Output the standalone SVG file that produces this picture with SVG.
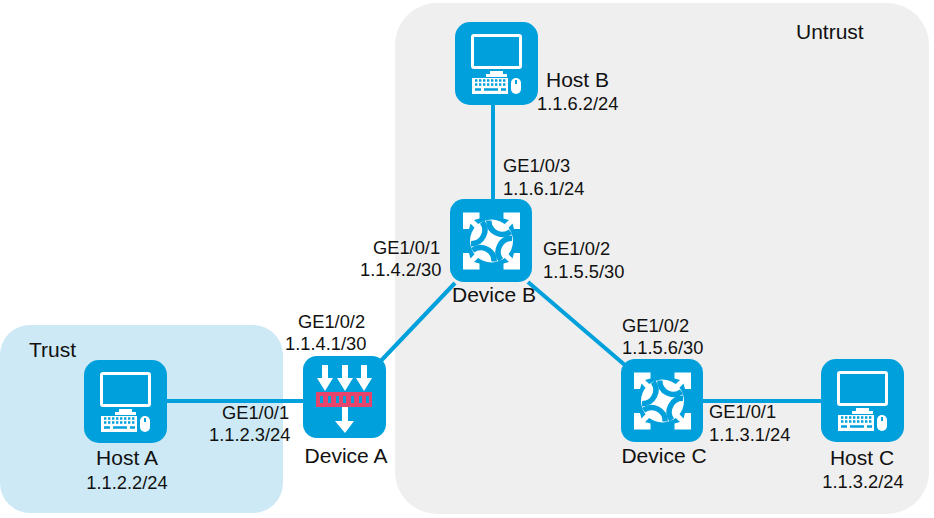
<svg xmlns="http://www.w3.org/2000/svg" xmlns:xlink="http://www.w3.org/1999/xlink" width="934" height="518" viewBox="0 0 934 518">
<style>
text{font-family:"Liberation Sans",Arial,sans-serif;font-size:18.3px;fill:#111}
.n{font-size:21px}
.m{text-anchor:middle}
.z{fill:#efefef}
.t{fill:#cde9f5}
.l{stroke:#00a0dc;stroke-width:4;fill:none}
.b{fill:#00a0dc}
.w{fill:#fff}
</style>
<defs>
<g id="host">
<rect class="b" width="83" height="83" rx="15"/>
<rect x="17.500" y="13.500" width="48" height="32" rx="1.500" fill="none" stroke="#fff" stroke-width="3"/>
<rect class="w" x="35" y="49" width="13" height="3"/>
<rect class="w" x="31" y="52" width="21" height="3"/>
<rect class="w" x="17" y="56" width="36" height="16"/>
<path d="M20 58.500h31M20 62.500h31" stroke="#00a0dc" stroke-width="2.500" stroke-dasharray="2.400 1.600" fill="none"/>
<path d="M20 67.500h6M29 67.500h14M46 67.500h5" stroke="#00a0dc" stroke-width="2.500" fill="none"/>
<rect class="w" x="56" y="56" width="10" height="16" rx="5"/>
<rect class="b" x="60" y="58" width="2" height="4"/>
</g>
<path id="corner" class="w" d="M0 0H16.500V6L11 7.500 21 17 17 21 7.500 11 6 16.500H0z"/>
<path id="arc" d="M-2.700-20.500A13.600 13.600 0 0 0 19-9.300" fill="none" stroke="#00a0dc" stroke-width="5.500"/>
<g id="router">
<rect class="b" width="82" height="83" rx="14"/>
<circle class="w" cx="41.500" cy="42" r="21.500"/>
<use href="#corner" xlink:href="#corner" transform="translate(13 13.500)"/>
<use href="#corner" xlink:href="#corner" transform="translate(70 13.500) rotate(90)"/>
<use href="#corner" xlink:href="#corner" transform="translate(70 70.500) rotate(180)"/>
<use href="#corner" xlink:href="#corner" transform="translate(13 70.500) rotate(270)"/>
<use href="#arc" xlink:href="#arc" transform="translate(41.500 42)"/>
<use href="#arc" xlink:href="#arc" transform="translate(41.500 42) rotate(90)"/>
<use href="#arc" xlink:href="#arc" transform="translate(41.500 42) rotate(180)"/>
<use href="#arc" xlink:href="#arc" transform="translate(41.500 42) rotate(270)"/>
</g>
</defs>
<rect class="z" x="395" y="3" width="534" height="511" rx="42"/>
<rect class="t" x="0" y="325" width="283" height="188" rx="30"/>
<g id="connectors">
<path class="l" d="M165 401H305"/>
<path class="l" d="M376 366L455 283"/>
<path class="l" d="M493 105V200"/>
<path class="l" d="M528 282L626 366"/>
<path class="l" d="M702 401H822"/>
</g>
<g id="zone-labels">
<text class="n" x="796" y="39">Untrust</text>
<text class="n" x="29" y="357">Trust</text>
</g>
<g id="host-a"><use xlink:href="#host" href="#host" x="84" y="360"/><text class="m n" x="127" y="465">Host A</text><text class="m" x="127" y="489">1.1.2.2/24</text></g>
<g id="host-b"><use xlink:href="#host" href="#host" x="455" y="22"/><text class="n" x="546" y="87">Host B</text><text x="537" y="110">1.1.6.2/24</text></g>
<g id="host-c"><use xlink:href="#host" href="#host" x="821" y="359"/><text class="m n" x="862" y="465">Host C</text><text class="m" x="863" y="488">1.1.3.2/24</text></g>
<g id="device-a">
<rect class="b" x="303" y="356" width="83" height="82" rx="14"/>
<path class="w" d="M322 365h6v13h5l-8 13-8-13h5zM342 365h6v13h5l-8 13-8-13h5zM361 365h6v13h5l-8 13-8-13h5zM342 407h6v14h6l-9 12-10-12h7z"/>
<rect x="316" y="392" width="56" height="15" fill="#e5446d"/>
<path class="b" d="M320 396h3v7h-3zM328 396h3v7h-3zM336 396h3v7h-3zM343 396h3v7h-3zM351 396h3v7h-3zM359 396h3v7h-3zM366 396h3v7h-3z"/>
<text class="m n" x="346" y="463">Device A</text>
</g>
<g id="device-b"><use xlink:href="#router" href="#router" x="450" y="199"/><text class="m n" x="494" y="302">Device B</text></g>
<g id="device-c"><use xlink:href="#router" href="#router" x="621" y="359"/><text class="m n" x="664" y="463">Device C</text></g>
<g id="interface-labels">
<text x="222" y="419">GE1/0/1</text><text x="209" y="441">1.1.2.3/24</text>
<text x="298" y="328">GE1/0/2</text><text x="285" y="350">1.1.4.1/30</text>
<text x="373" y="254">GE1/0/1</text><text x="360" y="276">1.1.4.2/30</text>
<text x="503" y="172">GE1/0/3</text><text x="503" y="195">1.1.6.1/24</text>
<text x="543" y="255">GE1/0/2</text><text x="543" y="278">1.1.5.5/30</text>
<text x="622" y="332">GE1/0/2</text><text x="622" y="354">1.1.5.6/30</text>
<text x="709" y="418">GE1/0/1</text><text x="709" y="441">1.1.3.1/24</text>
</g>
</svg>
